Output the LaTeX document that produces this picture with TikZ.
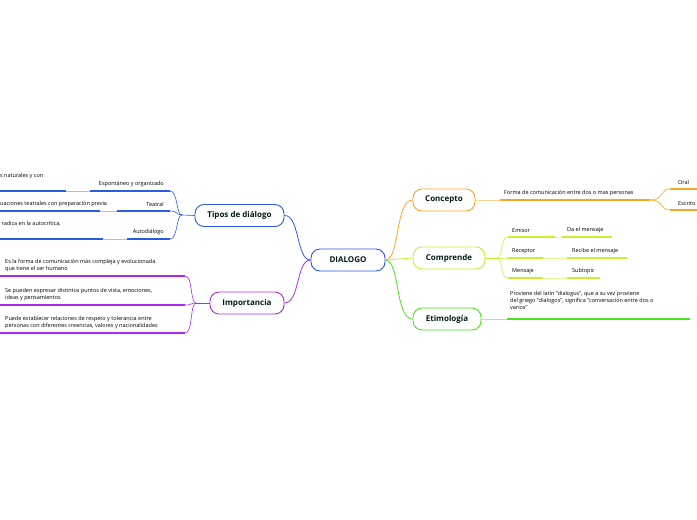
\documentclass[tikz,border=0pt]{standalone}
\usepackage{fontspec}
\setmainfont{Open Sans}
\begin{document}
\begin{tikzpicture}[x=1pt,y=-1pt,
 main/.style={draw=#1,line width=0.9pt,rounded corners=9pt,fill=white,font=\bfseries\fontsize{8}{9}\selectfont,text=black!80!teal,minimum height=22pt,align=center},
 sm/.style={font=\fontsize{5.5}{7.2}\selectfont,inner sep=1pt,align=left},
 ln/.style={color=#1,line width=1.1pt}]
\useasboundingbox (0,0) rectangle (697,520);
\definecolor{cblue}{HTML}{2A5BE0}
\definecolor{corg}{HTML}{F5A623}
\definecolor{cyel}{HTML}{C9EE32}
\definecolor{cgrn}{HTML}{4CE020}
\definecolor{cpur}{HTML}{A92BEA}
\node[main=cblue,minimum width=74pt] (d) at (348,260) {DIALOGO};
\node[main=corg,minimum width=62pt] (c) at (444,200) {Concepto};
\node[main=cyel,minimum width=72pt] (cp) at (449,258) {Comprende};
\node[main=cgrn,minimum width=68pt] (e) at (447,319) {Etimología};
\node[main=cblue,minimum width=89pt] (t) at (239.5,215.5) {Tipos de diálogo};
\node[main=cpur,minimum width=74pt] (i) at (247,303) {Importancia};
\draw[corg,line width=0.8pt] (d.east) .. controls (400,260) and (395,200) .. (c.west);
\draw[cyel,line width=0.8pt] (d.east) -- (cp.west);
\draw[cgrn,line width=0.8pt] (d.east) .. controls (400,260) and (395,319) .. (e.west);
\draw[cblue,line width=0.8pt] (d.west) .. controls (296,260) and (300,215) .. (t.east);
\draw[cpur,line width=0.8pt] (d.west) .. controls (296,260) and (300,303) .. (i.east);
% Concepto
\coordinate (c1) at (650,200);
\draw[corg!50,line width=0.6pt] (c.east) -- (500,200);
\draw[ln=corg] (500,200) -- (c1);
\node[sm,anchor=south west] at (503,197) {Forma de comunicación entre dos o mas personas};
\coordinate (o1) at (670,189); \coordinate (o2) at (670,210);
\draw[corg,line width=0.6pt] (c1) .. controls (664,200) and (660,189) .. (o1);
\draw[corg,line width=0.6pt] (c1) .. controls (664,200) and (660,210) .. (o2);
\draw[ln=corg] (o1) -- (697,189); \draw[ln=corg] (o2) -- (697,210);
\node[sm,anchor=south west] at (677,186) {Oral};
\node[sm,anchor=south west] at (677,207) {Escrito};
% Comprende
\coordinate (k) at (497,258);
\draw[cyel,line width=0.6pt] (cp.east) -- (k);
\foreach \y/\a/\xe/\b/\bs/\be in {237/Emisor/555/Da el mensaje/562/612, 258/Receptor/543/Recibe el mensaje/567/627, 278/Mensaje/543/Subtopic/567/600}{
 \draw[cyel,line width=0.6pt] (k) .. controls (503,258) and (500,\y) .. (508,\y);
 \draw[ln=cyel] (508,\y) -- (\xe,\y);
 \draw[cyel!50,line width=0.6pt] (\xe,\y) -- (\bs,\y);
 \draw[ln=cyel] (\bs,\y) -- (\be,\y);
 \node[sm,anchor=south west] at (511,\y-3) {\a};
 \node[sm,anchor=south west] at (\bs+4,\y-3) {\b};
}
% Etimologia
\draw[cgrn!50,line width=0.6pt] (e.east) -- (507,319);
\draw[ln=cgrn] (507,319) -- (690,319);
\node[sm,anchor=north west] at (509,290) {Proviene del latín "dialogus", que a su vez proviene\\del griego "dialogos", significa "conversación entre dos o\\varios"};
% Tipos
\coordinate (tk) at (182,215);
\draw[cblue,line width=0.6pt] (t.west) -- (tk);
\foreach \y in {191,211,239}{
 \draw[cblue,line width=0.6pt] (tk) .. controls (176,215) and (178,\y) .. (170,\y);}
\draw[ln=cblue] (170,191) -- (90,191); \draw[cblue!40,line width=0.6pt] (90,191) -- (66,191); \draw[ln=cblue] (66,191) -- (0,191);
\draw[ln=cblue] (170,211) -- (117,211); \draw[cblue!40,line width=0.6pt] (117,211) -- (100,211); \draw[ln=cblue] (100,211) -- (0,211);
\draw[ln=cblue] (170,239) -- (127,239); \draw[cblue!40,line width=0.6pt] (127,239) -- (103,239); \draw[ln=cblue] (103,239) -- (0,239);
\node[sm,anchor=south east] at (165,188) {Espontáneo y organizado};
\node[sm,anchor=south east] at (165,208) {Teatral};
\node[sm,anchor=south east] at (165,236) {Autodiálogo};
\node[sm,anchor=west] at (-1,176) {s naturales y con};
\node[sm,anchor=west] at (-1,204) {uaciones teatrales con preparación previa};
\node[sm,anchor=west] at (-1,224) {~radica en la autocrítica,};
% Importancia
\coordinate (ik) at (196,303);
\draw[cpur,line width=0.6pt] (i.west) -- (ik);
\foreach \y in {276,305,333}{
 \draw[cpur,line width=0.6pt] (ik) .. controls (190,303) and (193,\y) .. (185,\y);
 \draw[ln=cpur] (185,\y) -- (0,\y);}
\node[sm,anchor=south west] at (4,273) {Es la forma de comunicación más compleja y evolucionada\\que tiene el ser humano};
\node[sm,anchor=south west] at (4,302) {Se pueden expresar distintos puntos de vista, emociones,\\ideas y pensamientos};
\node[sm,anchor=south west] at (4,330) {Puede establecer relaciones de respeto y tolerancia entre\\personas con diferentes creencias, valores y nacionalidades};
\end{tikzpicture}
\end{document}
